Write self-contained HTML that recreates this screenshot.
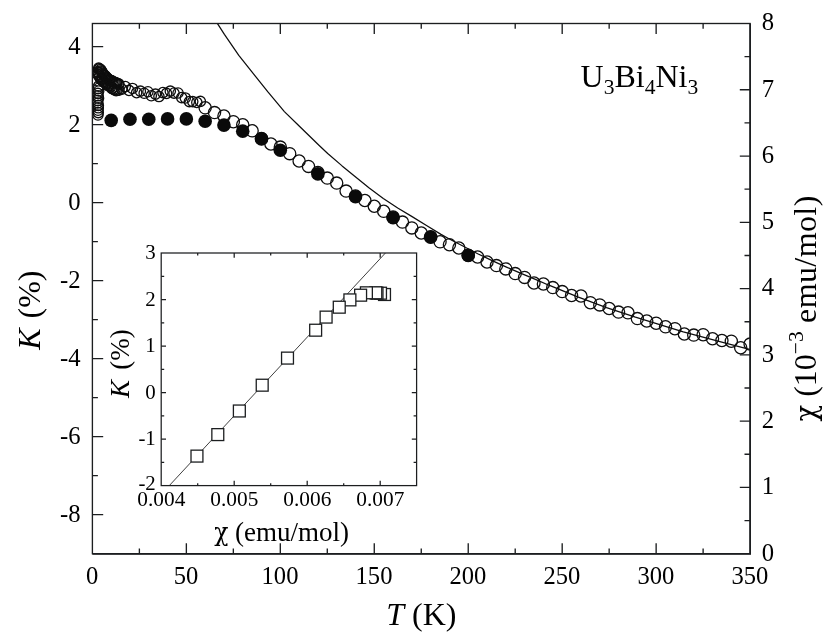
<!DOCTYPE html>
<html lang="en"><head><meta charset="utf-8"><title>U3Bi4Ni3 Knight shift and susceptibility</title>
<style>html,body{margin:0;padding:0;background:#fff;}body{width:832px;height:641px;overflow:hidden;position:relative;font-family:"Liberation Serif",serif;}</style>
</head><body>
<svg width="832" height="641" viewBox="0 0 832 641" style="display:block;position:absolute;left:0;top:0" font-family="'Liberation Serif', serif" fill="#000">
<rect x="0" y="0" width="832" height="641" fill="#fff"/>
<defs><clipPath id="cp"><rect x="92.4" y="23.5" width="657.7" height="530.2"/></clipPath><clipPath id="ci"><rect x="161.2" y="253" width="255.4" height="232.6"/></clipPath></defs>
<g clip-path="url(#cp)" fill="none" stroke="#0e0e0e">
<polyline stroke-width="1.25" stroke-linejoin="round" points="214.0,18.0 217.5,23.6 224.4,34.4 238.8,55.3 253.3,73.7 267.7,91.7 284.4,111.6 298.9,125.8 313.3,139.8 319.2,145.5 327.7,153.5 342.1,165.9 354.4,176.0 368.9,187.7 383.3,198.4 397.7,208.0 412.1,216.6 426.5,225.5 441.0,234.4 448.9,238.7 463.3,246.2 477.7,253.7 492.1,260.6 506.5,267.1 521.0,273.4 535.4,279.4 548.9,285.2 577.7,296.8 606.5,307.6 635.4,317.2 683.3,331.8 726.5,343.4 750.5,349.6"/>
<circle cx="97.94" cy="115.00" r="5.15" stroke-width="1.3"/>
<circle cx="98.24" cy="112.60" r="5.15" stroke-width="1.3"/>
<circle cx="98.07" cy="110.20" r="5.15" stroke-width="1.3"/>
<circle cx="98.30" cy="107.80" r="5.15" stroke-width="1.3"/>
<circle cx="98.33" cy="105.40" r="5.15" stroke-width="1.3"/>
<circle cx="97.77" cy="103.00" r="5.15" stroke-width="1.3"/>
<circle cx="97.71" cy="100.60" r="5.15" stroke-width="1.3"/>
<circle cx="98.54" cy="98.20" r="5.15" stroke-width="1.3"/>
<circle cx="97.96" cy="95.80" r="5.15" stroke-width="1.3"/>
<circle cx="97.93" cy="93.40" r="5.15" stroke-width="1.3"/>
<circle cx="98.70" cy="91.00" r="5.15" stroke-width="1.3"/>
<circle cx="98.17" cy="88.60" r="5.15" stroke-width="1.3"/>
<circle cx="98.54" cy="86.20" r="5.15" stroke-width="1.3"/>
<circle cx="98.68" cy="68.14" r="5.15" stroke-width="1.3"/>
<circle cx="99.26" cy="68.92" r="5.15" stroke-width="1.3"/>
<circle cx="100.67" cy="69.60" r="5.15" stroke-width="1.3"/>
<circle cx="101.21" cy="70.70" r="5.15" stroke-width="1.3"/>
<circle cx="101.31" cy="71.74" r="5.15" stroke-width="1.3"/>
<circle cx="102.37" cy="72.24" r="5.15" stroke-width="1.3"/>
<circle cx="102.56" cy="73.76" r="5.15" stroke-width="1.3"/>
<circle cx="103.62" cy="74.53" r="5.15" stroke-width="1.3"/>
<circle cx="104.65" cy="75.42" r="5.15" stroke-width="1.3"/>
<circle cx="105.40" cy="76.01" r="5.15" stroke-width="1.3"/>
<circle cx="106.02" cy="76.96" r="5.15" stroke-width="1.3"/>
<circle cx="107.00" cy="78.12" r="5.15" stroke-width="1.3"/>
<circle cx="107.28" cy="78.02" r="5.15" stroke-width="1.3"/>
<circle cx="108.33" cy="79.49" r="5.15" stroke-width="1.3"/>
<circle cx="109.46" cy="79.80" r="5.15" stroke-width="1.3"/>
<circle cx="110.35" cy="80.25" r="5.15" stroke-width="1.3"/>
<circle cx="111.45" cy="80.60" r="5.15" stroke-width="1.3"/>
<circle cx="112.64" cy="81.34" r="5.15" stroke-width="1.3"/>
<circle cx="113.93" cy="81.94" r="5.15" stroke-width="1.3"/>
<circle cx="115.02" cy="82.54" r="5.15" stroke-width="1.3"/>
<circle cx="116.14" cy="82.77" r="5.15" stroke-width="1.3"/>
<circle cx="116.54" cy="83.41" r="5.15" stroke-width="1.3"/>
<circle cx="118.23" cy="83.90" r="5.15" stroke-width="1.3"/>
<circle cx="118.97" cy="84.17" r="5.15" stroke-width="1.3"/>
<circle cx="97.67" cy="71.83" r="5.15" stroke-width="1.3"/>
<circle cx="98.00" cy="72.58" r="5.15" stroke-width="1.3"/>
<circle cx="97.64" cy="74.45" r="5.15" stroke-width="1.3"/>
<circle cx="98.86" cy="74.86" r="5.15" stroke-width="1.3"/>
<circle cx="99.38" cy="76.29" r="5.15" stroke-width="1.3"/>
<circle cx="99.53" cy="77.29" r="5.15" stroke-width="1.3"/>
<circle cx="100.88" cy="78.84" r="5.15" stroke-width="1.3"/>
<circle cx="101.22" cy="79.50" r="5.15" stroke-width="1.3"/>
<circle cx="102.14" cy="80.52" r="5.15" stroke-width="1.3"/>
<circle cx="103.29" cy="81.60" r="5.15" stroke-width="1.3"/>
<circle cx="104.75" cy="82.12" r="5.15" stroke-width="1.3"/>
<circle cx="105.75" cy="82.77" r="5.15" stroke-width="1.3"/>
<circle cx="106.00" cy="83.91" r="5.15" stroke-width="1.3"/>
<circle cx="106.95" cy="84.36" r="5.15" stroke-width="1.3"/>
<circle cx="108.23" cy="85.62" r="5.15" stroke-width="1.3"/>
<circle cx="109.06" cy="85.85" r="5.15" stroke-width="1.3"/>
<circle cx="110.65" cy="86.92" r="5.15" stroke-width="1.3"/>
<circle cx="111.75" cy="88.30" r="5.15" stroke-width="1.3"/>
<circle cx="112.41" cy="88.51" r="5.15" stroke-width="1.3"/>
<circle cx="113.66" cy="89.32" r="5.15" stroke-width="1.3"/>
<circle cx="114.88" cy="89.83" r="5.15" stroke-width="1.3"/>
<circle cx="116.12" cy="90.64" r="5.15" stroke-width="1.3"/>
<circle cx="117.33" cy="90.26" r="5.15" stroke-width="1.3"/>
<circle cx="118.79" cy="90.20" r="5.15" stroke-width="1.3"/>
<circle cx="121.79" cy="89.08" r="5.15" stroke-width="1.3"/>
<circle cx="125.29" cy="86.57" r="5.15" stroke-width="1.3"/>
<circle cx="128.97" cy="90.42" r="5.15" stroke-width="1.3"/>
<circle cx="132.49" cy="88.43" r="5.15" stroke-width="1.3"/>
<circle cx="136.62" cy="92.63" r="5.15" stroke-width="1.3"/>
<circle cx="140.38" cy="91.17" r="5.15" stroke-width="1.3"/>
<circle cx="144.17" cy="93.25" r="5.15" stroke-width="1.3"/>
<circle cx="147.94" cy="91.74" r="5.15" stroke-width="1.3"/>
<circle cx="151.29" cy="95.71" r="5.15" stroke-width="1.3"/>
<circle cx="155.45" cy="94.15" r="5.15" stroke-width="1.3"/>
<circle cx="158.95" cy="96.57" r="5.15" stroke-width="1.3"/>
<circle cx="162.92" cy="92.62" r="5.15" stroke-width="1.3"/>
<circle cx="166.54" cy="93.38" r="5.15" stroke-width="1.3"/>
<circle cx="170.30" cy="91.16" r="5.15" stroke-width="1.3"/>
<circle cx="174.02" cy="93.10" r="5.15" stroke-width="1.3"/>
<circle cx="178.06" cy="92.99" r="5.15" stroke-width="1.3"/>
<circle cx="181.70" cy="97.61" r="5.15" stroke-width="1.3"/>
<circle cx="185.31" cy="97.96" r="5.15" stroke-width="1.3"/>
<circle cx="189.36" cy="101.62" r="5.15" stroke-width="1.3"/>
<circle cx="192.75" cy="101.60" r="5.15" stroke-width="1.3"/>
<circle cx="196.82" cy="102.43" r="5.15" stroke-width="1.3"/>
<circle cx="200.35" cy="101.40" r="5.15" stroke-width="1.3"/>
<circle cx="205.15" cy="107.80" r="6.1" stroke-width="1.3"/>
<circle cx="214.54" cy="112.60" r="6.1" stroke-width="1.3"/>
<circle cx="223.94" cy="116.00" r="6.1" stroke-width="1.3"/>
<circle cx="233.34" cy="121.70" r="6.1" stroke-width="1.3"/>
<circle cx="242.73" cy="124.80" r="6.1" stroke-width="1.3"/>
<circle cx="252.13" cy="130.80" r="6.1" stroke-width="1.3"/>
<circle cx="261.52" cy="138.40" r="6.1" stroke-width="1.3"/>
<circle cx="270.92" cy="144.00" r="6.1" stroke-width="1.3"/>
<circle cx="280.31" cy="147.10" r="6.1" stroke-width="1.3"/>
<circle cx="289.71" cy="153.65" r="6.1" stroke-width="1.3"/>
<circle cx="299.11" cy="161.00" r="6.1" stroke-width="1.3"/>
<circle cx="308.50" cy="166.40" r="6.1" stroke-width="1.3"/>
<circle cx="317.90" cy="172.50" r="6.1" stroke-width="1.3"/>
<circle cx="327.29" cy="178.10" r="6.1" stroke-width="1.3"/>
<circle cx="336.69" cy="183.10" r="6.1" stroke-width="1.3"/>
<circle cx="346.08" cy="191.10" r="6.1" stroke-width="1.3"/>
<circle cx="355.48" cy="196.00" r="6.1" stroke-width="1.3"/>
<circle cx="364.88" cy="200.50" r="6.1" stroke-width="1.3"/>
<circle cx="374.27" cy="206.25" r="6.1" stroke-width="1.3"/>
<circle cx="383.67" cy="211.30" r="6.1" stroke-width="1.3"/>
<circle cx="393.06" cy="217.00" r="6.1" stroke-width="1.3"/>
<circle cx="402.46" cy="222.10" r="6.1" stroke-width="1.3"/>
<circle cx="411.85" cy="227.90" r="6.1" stroke-width="1.3"/>
<circle cx="421.25" cy="233.00" r="6.1" stroke-width="1.3"/>
<circle cx="430.65" cy="236.70" r="6.1" stroke-width="1.3"/>
<circle cx="440.04" cy="241.80" r="6.1" stroke-width="1.3"/>
<circle cx="449.44" cy="244.70" r="6.1" stroke-width="1.3"/>
<circle cx="458.83" cy="248.00" r="6.1" stroke-width="1.3"/>
<circle cx="468.23" cy="255.20" r="6.1" stroke-width="1.3"/>
<circle cx="477.62" cy="257.00" r="6.1" stroke-width="1.3"/>
<circle cx="487.02" cy="262.00" r="6.1" stroke-width="1.3"/>
<circle cx="496.42" cy="265.60" r="6.1" stroke-width="1.3"/>
<circle cx="505.81" cy="268.90" r="6.1" stroke-width="1.3"/>
<circle cx="515.21" cy="273.60" r="6.1" stroke-width="1.3"/>
<circle cx="524.60" cy="277.40" r="6.1" stroke-width="1.3"/>
<circle cx="534.00" cy="283.00" r="6.1" stroke-width="1.3"/>
<circle cx="543.39" cy="284.00" r="6.1" stroke-width="1.3"/>
<circle cx="552.79" cy="287.60" r="6.1" stroke-width="1.3"/>
<circle cx="562.19" cy="291.60" r="6.1" stroke-width="1.3"/>
<circle cx="571.58" cy="295.50" r="6.1" stroke-width="1.3"/>
<circle cx="580.98" cy="296.00" r="6.1" stroke-width="1.3"/>
<circle cx="590.37" cy="302.70" r="6.1" stroke-width="1.3"/>
<circle cx="599.77" cy="304.90" r="6.1" stroke-width="1.3"/>
<circle cx="609.16" cy="308.50" r="6.1" stroke-width="1.3"/>
<circle cx="618.56" cy="312.10" r="6.1" stroke-width="1.3"/>
<circle cx="627.96" cy="312.80" r="6.1" stroke-width="1.3"/>
<circle cx="637.35" cy="318.60" r="6.1" stroke-width="1.3"/>
<circle cx="646.75" cy="321.00" r="6.1" stroke-width="1.3"/>
<circle cx="656.14" cy="323.20" r="6.1" stroke-width="1.3"/>
<circle cx="665.54" cy="326.80" r="6.1" stroke-width="1.3"/>
<circle cx="674.93" cy="328.70" r="6.1" stroke-width="1.3"/>
<circle cx="684.33" cy="334.00" r="6.1" stroke-width="1.3"/>
<circle cx="693.73" cy="335.10" r="6.1" stroke-width="1.3"/>
<circle cx="703.12" cy="334.70" r="6.1" stroke-width="1.3"/>
<circle cx="712.52" cy="338.75" r="6.1" stroke-width="1.3"/>
<circle cx="721.91" cy="340.50" r="6.1" stroke-width="1.3"/>
<circle cx="731.31" cy="341.20" r="6.1" stroke-width="1.3"/>
<circle cx="740.70" cy="347.70" r="6.1" stroke-width="1.3"/>
<circle cx="750.10" cy="344.10" r="6.1" stroke-width="1.3"/>
</g>
<g fill="#0a0a0a">
<circle cx="111.19" cy="120.40" r="6.8"/>
<circle cx="129.98" cy="119.20" r="6.8"/>
<circle cx="148.77" cy="119.20" r="6.8"/>
<circle cx="167.57" cy="118.90" r="6.8"/>
<circle cx="186.36" cy="118.90" r="6.8"/>
<circle cx="205.15" cy="121.20" r="6.8"/>
<circle cx="223.94" cy="125.10" r="6.8"/>
<circle cx="242.73" cy="131.15" r="6.8"/>
<circle cx="261.52" cy="138.90" r="6.8"/>
<circle cx="280.31" cy="150.20" r="6.8"/>
<circle cx="317.90" cy="173.90" r="6.8"/>
<circle cx="355.48" cy="196.70" r="6.8"/>
<circle cx="393.06" cy="217.80" r="6.8"/>
<circle cx="430.65" cy="237.20" r="6.8"/>
<circle cx="468.23" cy="255.50" r="6.8"/>
</g>
<g stroke="#1c1e20" stroke-width="1.35" fill="none">
<rect x="92.4" y="23.5" width="657.7" height="530.2"/>
<path d="M139.38 553.7v-5.3M139.38 23.5v5.3M186.36 553.7v-10.5M186.36 23.5v10.5M233.34 553.7v-5.3M233.34 23.5v5.3M280.31 553.7v-10.5M280.31 23.5v10.5M327.29 553.7v-5.3M327.29 23.5v5.3M374.27 553.7v-10.5M374.27 23.5v10.5M421.25 553.7v-5.3M421.25 23.5v5.3M468.23 553.7v-10.5M468.23 23.5v10.5M515.21 553.7v-5.3M515.21 23.5v5.3M562.19 553.7v-10.5M562.19 23.5v10.5M609.16 553.7v-5.3M609.16 23.5v5.3M656.14 553.7v-10.5M656.14 23.5v10.5M703.12 553.7v-5.3M703.12 23.5v5.3M92.4 46.60h10.8M92.4 85.60h5.5M92.4 124.60h10.8M92.4 163.60h5.5M92.4 202.60h10.8M92.4 241.60h5.5M92.4 280.60h10.8M92.4 319.60h5.5M92.4 358.60h10.8M92.4 397.60h5.5M92.4 436.60h10.8M92.4 475.60h5.5M92.4 514.60h10.8M750.1 520.56h-5.6M750.1 487.43h-10.3M750.1 454.29h-5.6M750.1 421.15h-10.3M750.1 388.01h-5.6M750.1 354.88h-10.3M750.1 321.74h-5.6M750.1 288.60h-10.3M750.1 255.46h-5.6M750.1 222.33h-10.3M750.1 189.19h-5.6M750.1 156.05h-10.3M750.1 122.91h-5.6M750.1 89.77h-10.3M750.1 56.64h-5.6"/>
<path d="M92.4 553.85H750.2V23.5" stroke-width="1.6"/>
</g>
<g font-size="26px">
<text transform="translate(92.1 584.3) scale(0.945 1)" text-anchor="middle">0</text>
<text transform="translate(186.1 584.3) scale(0.945 1)" text-anchor="middle">50</text>
<text transform="translate(280.0 584.3) scale(0.945 1)" text-anchor="middle">100</text>
<text transform="translate(374.0 584.3) scale(0.945 1)" text-anchor="middle">150</text>
<text transform="translate(467.9 584.3) scale(0.945 1)" text-anchor="middle">200</text>
<text transform="translate(561.9 584.3) scale(0.945 1)" text-anchor="middle">250</text>
<text transform="translate(655.8 584.3) scale(0.945 1)" text-anchor="middle">300</text>
<text transform="translate(749.8 584.3) scale(0.945 1)" text-anchor="middle">350</text>
<text transform="translate(80.6 53.8) scale(0.95 1)" text-anchor="end">4</text>
<text transform="translate(80.6 131.8) scale(0.95 1)" text-anchor="end">2</text>
<text transform="translate(80.6 209.8) scale(0.95 1)" text-anchor="end">0</text>
<text transform="translate(80.6 287.8) scale(0.95 1)" text-anchor="end">-2</text>
<text transform="translate(80.6 365.8) scale(0.95 1)" text-anchor="end">-4</text>
<text transform="translate(80.6 443.8) scale(0.95 1)" text-anchor="end">-6</text>
<text transform="translate(80.6 521.8) scale(0.95 1)" text-anchor="end">-8</text>
<text transform="translate(761.8 560.5) scale(0.95 1)">0</text>
<text transform="translate(761.8 494.2) scale(0.95 1)">1</text>
<text transform="translate(761.8 428.0) scale(0.95 1)">2</text>
<text transform="translate(761.8 361.7) scale(0.95 1)">3</text>
<text transform="translate(761.8 295.4) scale(0.95 1)">4</text>
<text transform="translate(761.8 229.1) scale(0.95 1)">5</text>
<text transform="translate(761.8 162.9) scale(0.95 1)">6</text>
<text transform="translate(761.8 96.6) scale(0.95 1)">7</text>
<text transform="translate(761.8 30.3) scale(0.95 1)">8</text>
</g>
<text x="386.3" y="624.6" font-size="32px"><tspan font-style="italic">T</tspan> (K)</text>
<text transform="translate(39.9 349.8) rotate(-90)" font-size="32px" word-spacing="2"><tspan font-style="italic">K</tspan> (%)</text>
<text transform="translate(815.8 421.6) rotate(-90)" font-size="32px"><tspan font-family="'DejaVu Serif Condensed', 'DejaVu Serif', serif" font-size="30.7px">χ</tspan> (10<tspan font-size="21.5px" dy="-13">−3</tspan><tspan dy="13" letter-spacing="0.4"> emu/mol)</tspan></text>
<text x="580.6" y="86.8" font-size="32px">U<tspan font-size="21.5px" dy="7.6">3</tspan><tspan dy="-7.6">Bi</tspan><tspan font-size="21.5px" dy="7.6">4</tspan><tspan dy="-7.6">Ni</tspan><tspan font-size="21.5px" dy="7.6">3</tspan></text>
<rect x="161.2" y="253.0" width="255.4" height="232.6" fill="#fff" stroke="none"/>
<g clip-path="url(#ci)"><line x1="169.4" y1="485.5" x2="385.5" y2="252.9" stroke="#2a2a2a" stroke-width="0.9"/></g>
<g fill="#fff" stroke="#1c1e20" stroke-width="1.3">
<rect x="378.55" y="288.55" width="11.9" height="11.9"/>
<rect x="374.55" y="287.25" width="11.9" height="11.9"/>
<rect x="371.05" y="287.25" width="11.9" height="11.9"/>
<rect x="369.85" y="286.85" width="11.9" height="11.9"/>
<rect x="360.45" y="286.85" width="11.9" height="11.9"/>
<rect x="354.65" y="289.25" width="11.9" height="11.9"/>
<rect x="343.95" y="293.95" width="11.9" height="11.9"/>
<rect x="333.30" y="301.25" width="11.9" height="11.9"/>
<rect x="320.15" y="311.15" width="11.9" height="11.9"/>
<rect x="309.70" y="324.25" width="11.9" height="11.9"/>
<rect x="281.55" y="352.15" width="11.9" height="11.9"/>
<rect x="256.25" y="379.25" width="11.9" height="11.9"/>
<rect x="233.40" y="405.05" width="11.9" height="11.9"/>
<rect x="211.85" y="428.65" width="11.9" height="11.9"/>
<rect x="191.01" y="450.15" width="11.9" height="11.9"/>
</g>
<g stroke="#1c1e20" stroke-width="1.25" fill="none">
<rect x="161.2" y="253.0" width="255.4" height="232.6"/>
<path d="M197.70 485.6v-2.4M197.70 253.0v2.4M234.20 485.6v-4.8M234.20 253.0v4.8M270.70 485.6v-2.4M270.70 253.0v2.4M307.20 485.6v-4.8M307.20 253.0v4.8M343.70 485.6v-2.4M343.70 253.0v2.4M380.20 485.6v-4.8M380.20 253.0v4.8M161.2 276.25h3.0M416.6 276.25h-3.0M161.2 299.50h4.8M416.6 299.50h-4.8M161.2 322.75h3.0M416.6 322.75h-3.0M161.2 346.00h4.8M416.6 346.00h-4.8M161.2 369.25h3.0M416.6 369.25h-3.0M161.2 392.50h4.8M416.6 392.50h-4.8M161.2 415.75h3.0M416.6 415.75h-3.0M161.2 439.00h4.8M416.6 439.00h-4.8M161.2 462.25h3.0M416.6 462.25h-3.0"/>
</g>
<g font-size="22px">
<text transform="translate(161.3 506.0) scale(0.97 1)" text-anchor="middle">0.004</text>
<text transform="translate(234.3 506.0) scale(0.97 1)" text-anchor="middle">0.005</text>
<text transform="translate(307.3 506.0) scale(0.97 1)" text-anchor="middle">0.006</text>
<text transform="translate(380.3 506.0) scale(0.97 1)" text-anchor="middle">0.007</text>
<text transform="translate(155.8 259.2) scale(0.95 1)" text-anchor="end">3</text>
<text transform="translate(155.8 305.7) scale(0.95 1)" text-anchor="end">2</text>
<text transform="translate(155.8 352.2) scale(0.95 1)" text-anchor="end">1</text>
<text transform="translate(155.8 398.7) scale(0.95 1)" text-anchor="end">0</text>
<text transform="translate(155.8 445.2) scale(0.95 1)" text-anchor="end">-1</text>
<text transform="translate(155.8 490.2) scale(0.95 1)" text-anchor="end">-2</text>
</g>
<text x="214.2" y="540.6" font-size="27px"><tspan font-family="'DejaVu Serif Condensed', 'DejaVu Serif', serif" font-size="26px">χ</tspan> (emu/mol)</text>
<text transform="translate(128.9 398) rotate(-90)" font-size="27px" word-spacing="3.5"><tspan font-style="italic">K</tspan> (%)</text>
</svg>
</body></html>
